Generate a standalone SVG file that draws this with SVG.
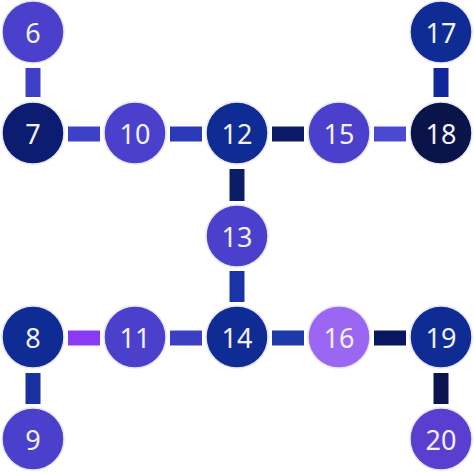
<svg xmlns="http://www.w3.org/2000/svg" width="474" height="474" viewBox="0 0 474 474">
<style>
.e{stroke-width:15;stroke-linecap:butt}
.eo{stroke:#e8eaf8;stroke-width:18;stroke-linecap:butt}
circle{stroke:#e6e6f6;stroke-width:1.5}
text{font-family:"Noto Sans","Open Sans",sans-serif;font-size:27px;fill:#f2f2ff;text-anchor:middle;dominant-baseline:central}
.m{fill:#4b40cc}.n{fill:#0f2b94}.d{fill:#0c1c70}.x{fill:#0a1448}.l{fill:#9b66f2}.p{fill:#5a3ed0}
</style>
<rect width="474" height="474" fill="#ffffff"/>
<g id="connectors">
<line x1="33" y1="68" x2="33" y2="97" class="e" stroke="#3f3fc5"/>
<line x1="68" y1="134" x2="100" y2="134" class="e" stroke="#3b42c8"/>
<line x1="170" y1="134" x2="202" y2="134" class="e" stroke="#2a3ab8"/>
<line x1="272" y1="134" x2="304" y2="134" class="e" stroke="#0a1a66"/>
<line x1="374" y1="134" x2="406" y2="134" class="e" stroke="#4a4ad0"/>
<line x1="441" y1="68" x2="441" y2="97" class="e" stroke="#10289a"/>
<line x1="237" y1="169" x2="237" y2="201" class="e" stroke="#0d1c66"/>
<line x1="237" y1="271" x2="237" y2="302" class="e" stroke="#1a34a8"/>
<line x1="68" y1="338" x2="100" y2="338" class="e" stroke="#8a3cf5"/>
<line x1="170" y1="338" x2="202" y2="338" class="e" stroke="#3b40c2"/>
<line x1="272" y1="338" x2="304" y2="338" class="e" stroke="#1e3aaa"/>
<line x1="374" y1="338" x2="406" y2="338" class="e" stroke="#0b1660"/>
<line x1="33" y1="373" x2="33" y2="404" class="e" stroke="#1a32a0"/>
<line x1="441" y1="373" x2="441" y2="404" class="e" stroke="#0b1450"/>
</g>
<g id="n6"><circle cx="33" cy="32" r="31" class="m"/><text x="33" y="32">6</text></g>
<g id="n7"><circle cx="33" cy="133" r="31" class="d"/><text x="33" y="133">7</text></g>
<g id="n10"><circle cx="135" cy="133" r="31" class="m"/><text x="135" y="133">10</text></g>
<g id="n12"><circle cx="237" cy="133" r="31" class="n"/><text x="237" y="133">12</text></g>
<g id="n15"><circle cx="339" cy="133" r="31" class="m"/><text x="339" y="133">15</text></g>
<g id="n18"><circle cx="441" cy="133" r="31" class="x"/><text x="441" y="133">18</text></g>
<g id="n17"><circle cx="441" cy="32" r="31" class="n"/><text x="441" y="32">17</text></g>
<g id="n13"><circle cx="237" cy="236" r="31" class="m"/><text x="237" y="236">13</text></g>
<g id="n14"><circle cx="237" cy="337" r="31" class="n"/><text x="237" y="337">14</text></g>
<g id="n11"><circle cx="135" cy="337" r="31" class="m"/><text x="135" y="337">11</text></g>
<g id="n8"><circle cx="33" cy="337" r="31" class="n"/><text x="33" y="337">8</text></g>
<g id="n9"><circle cx="33" cy="439" r="31" class="m"/><text x="33" y="439">9</text></g>
<g id="n16"><circle cx="339" cy="337" r="31" class="l"/><text x="339" y="337">16</text></g>
<g id="n19"><circle cx="441" cy="337" r="31" class="n"/><text x="441" y="337">19</text></g>
<g id="n20"><circle cx="441" cy="439" r="31" class="p"/><text x="441" y="439">20</text></g>
</svg>
